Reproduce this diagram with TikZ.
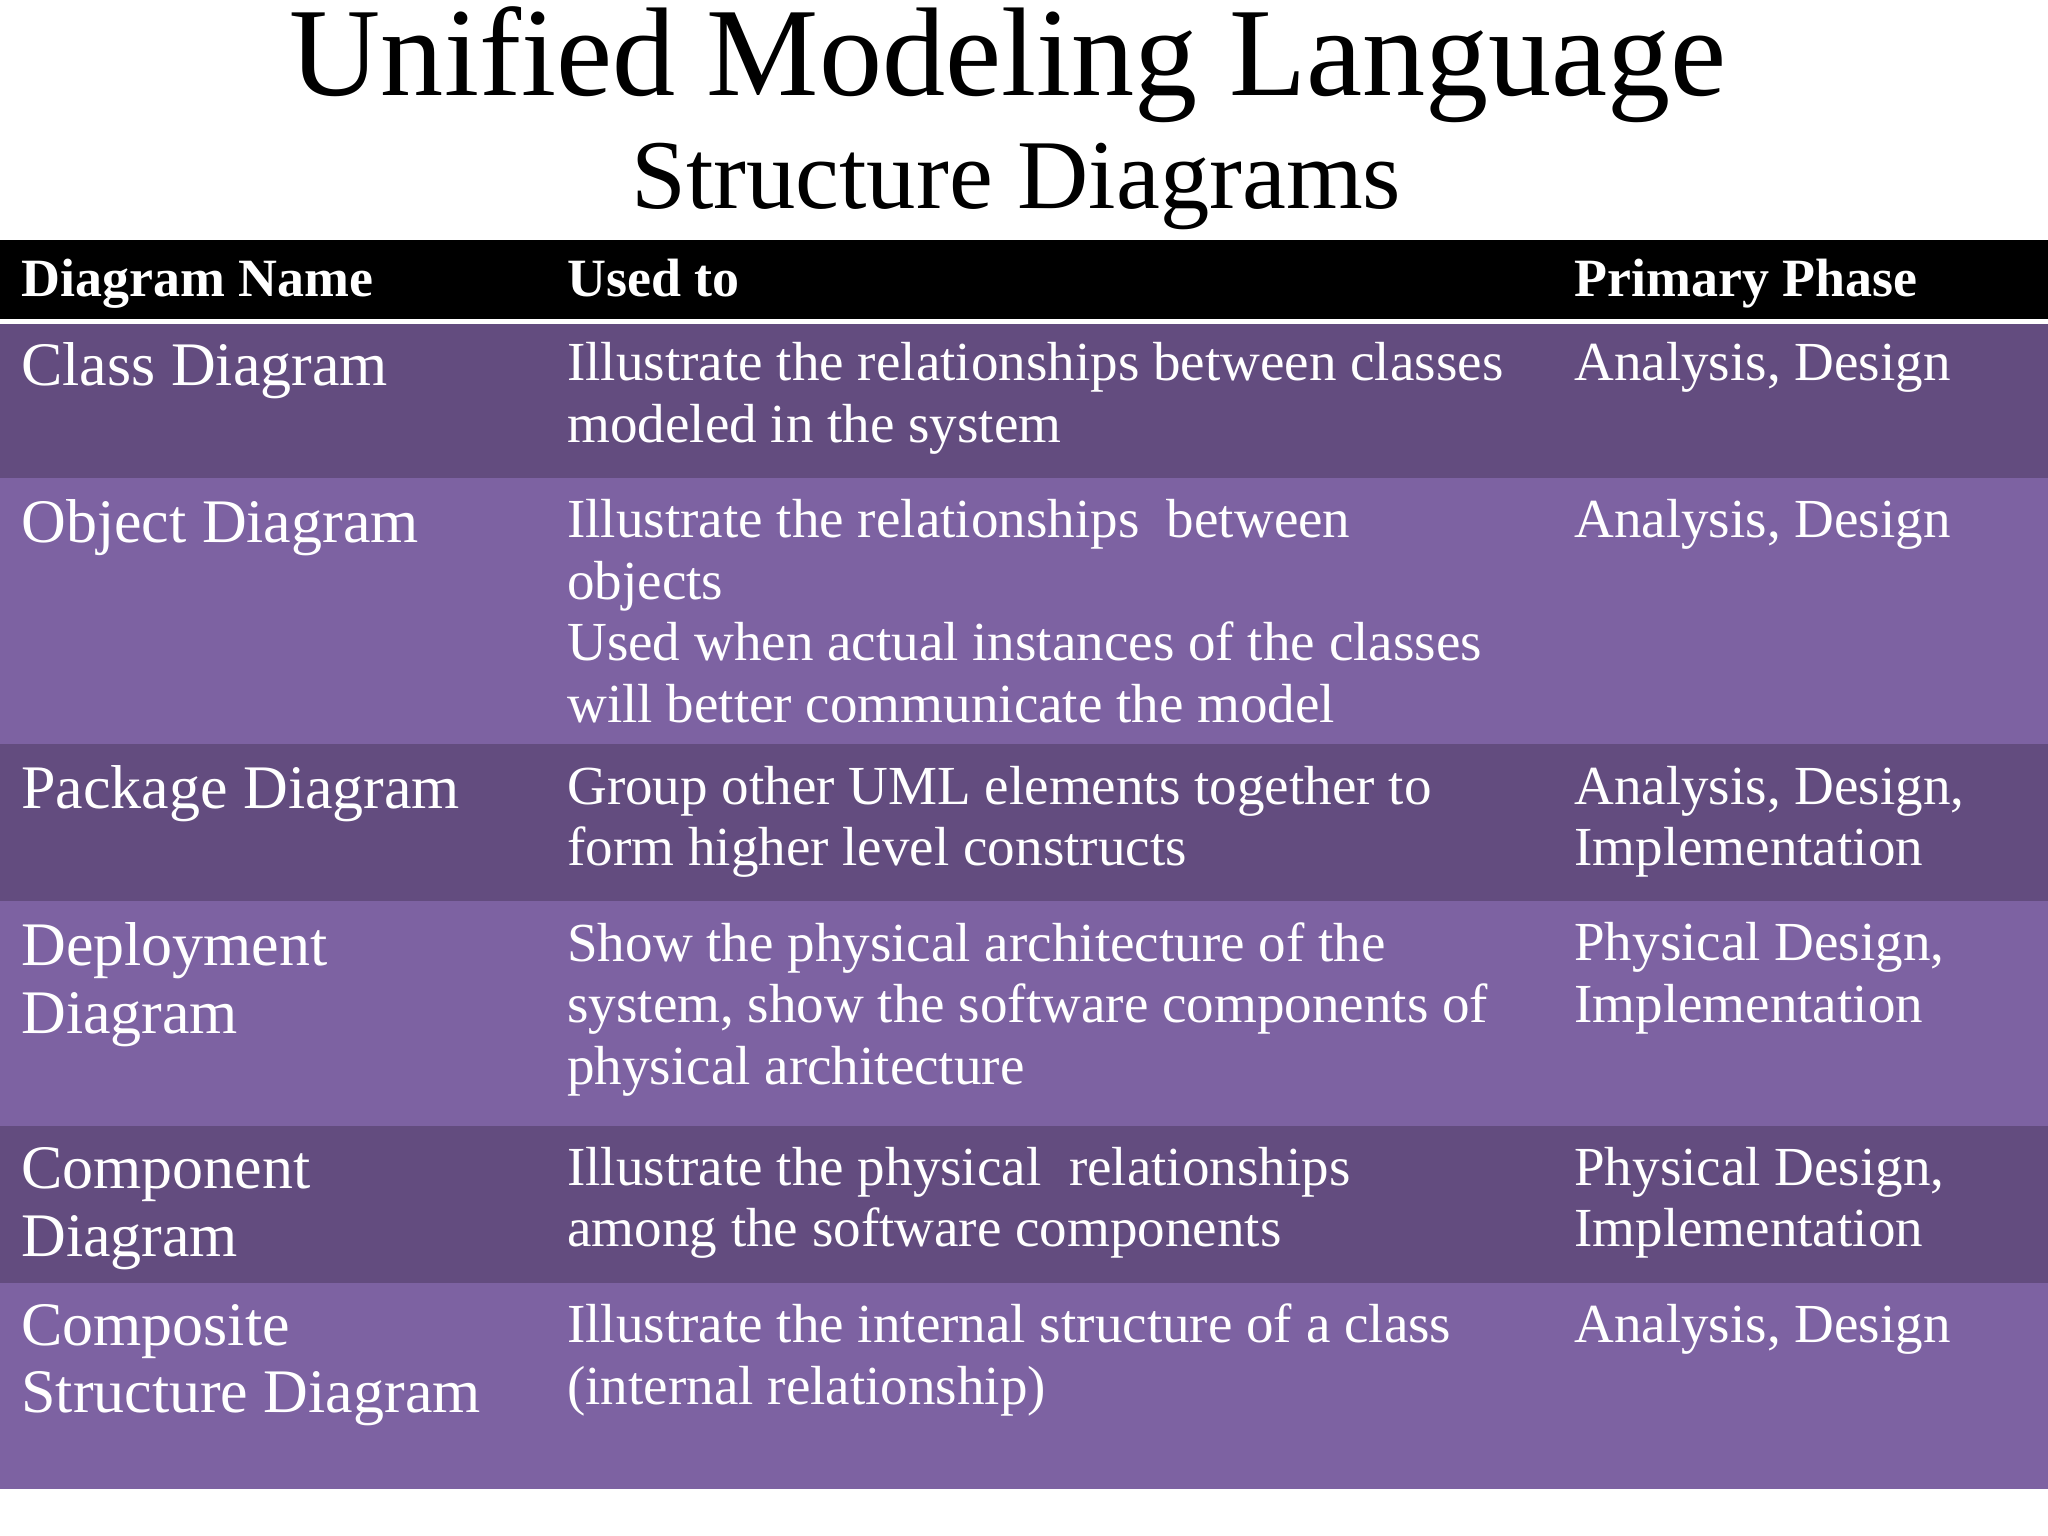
\documentclass[tikz,border=0pt]{standalone}
\usepackage{fontspec}
\setmainfont{Liberation Serif}
\definecolor{rowdark}{HTML}{634C7F}
\definecolor{rowlight}{HTML}{7D62A2}
\begin{document}
\begin{tikzpicture}[x=0.02cm,y=-0.02cm,
  cell/.style={anchor=north west,inner sep=0pt,align=left,text=white,font=\fontsize{24}{26.8}\selectfont},
  hdr/.style={anchor=base west,inner sep=0pt,text=white,font=\bfseries\fontsize{23.5}{27}\selectfont}]
\useasboundingbox (0,0) rectangle (1568,1176);
\fill[black] (0,184) rectangle (1568,244);
\fill[rowdark] (0,248) rectangle (1568,366);
\fill[rowlight] (0,366) rectangle (1568,570);
\fill[rowdark] (0,570) rectangle (1568,690);
\fill[rowlight] (0,690) rectangle (1568,862);
\fill[rowdark] (0,862) rectangle (1568,982);
\fill[rowlight] (0,982) rectangle (1568,1140);
\node[inner sep=0pt,anchor=base,font=\fontsize{55}{60}\selectfont] (t) at (772,73) {Unified Modeling Language};
\node[inner sep=0pt,anchor=base,font=\fontsize{43}{48}\selectfont] (s) at (778,160) {Structure Diagrams};
\node[hdr] (h1) at (16,227) {Diagram Name};
\node[hdr] (h2) at (434,227) {Used to};
\node[hdr] (h3) at (1205,227) {Primary Phase};
\foreach \y/\a/\b/\c in {
 262/{Class Diagram}/{Illustrate the relationships between classes\\modeled in the system}/{Analysis, Design},
 382/{Object Diagram}/{Illustrate the relationships\ \ between\\objects\\Used when actual instances of the classes\\will better communicate the model}/{Analysis, Design},
 586/{Package Diagram}/{Group other UML elements together to\\form higher level constructs}/{Analysis, Design,\\Implementation},
 706/{Deployment\\Diagram}/{Show the physical architecture of the\\system, show the software components of\\physical architecture}/{Physical Design,\\Implementation},
 878/{Component\\Diagram}/{Illustrate the physical\ \ relationships\\among the software components}/{Physical Design,\\Implementation},
 998/{Composite\\Structure Diagram}/{Illustrate the internal structure of a class\\(internal relationship)}/{Analysis, Design}}{
 \node[cell,font=\fontsize{27}{29.6}\selectfont] (a\y) at (16,\y) {\a};
 \node[cell] (b\y) at (434,\y) {\b};
 \node[cell] (c\y) at (1205,\y) {\c};
}
\end{tikzpicture}
\end{document}
